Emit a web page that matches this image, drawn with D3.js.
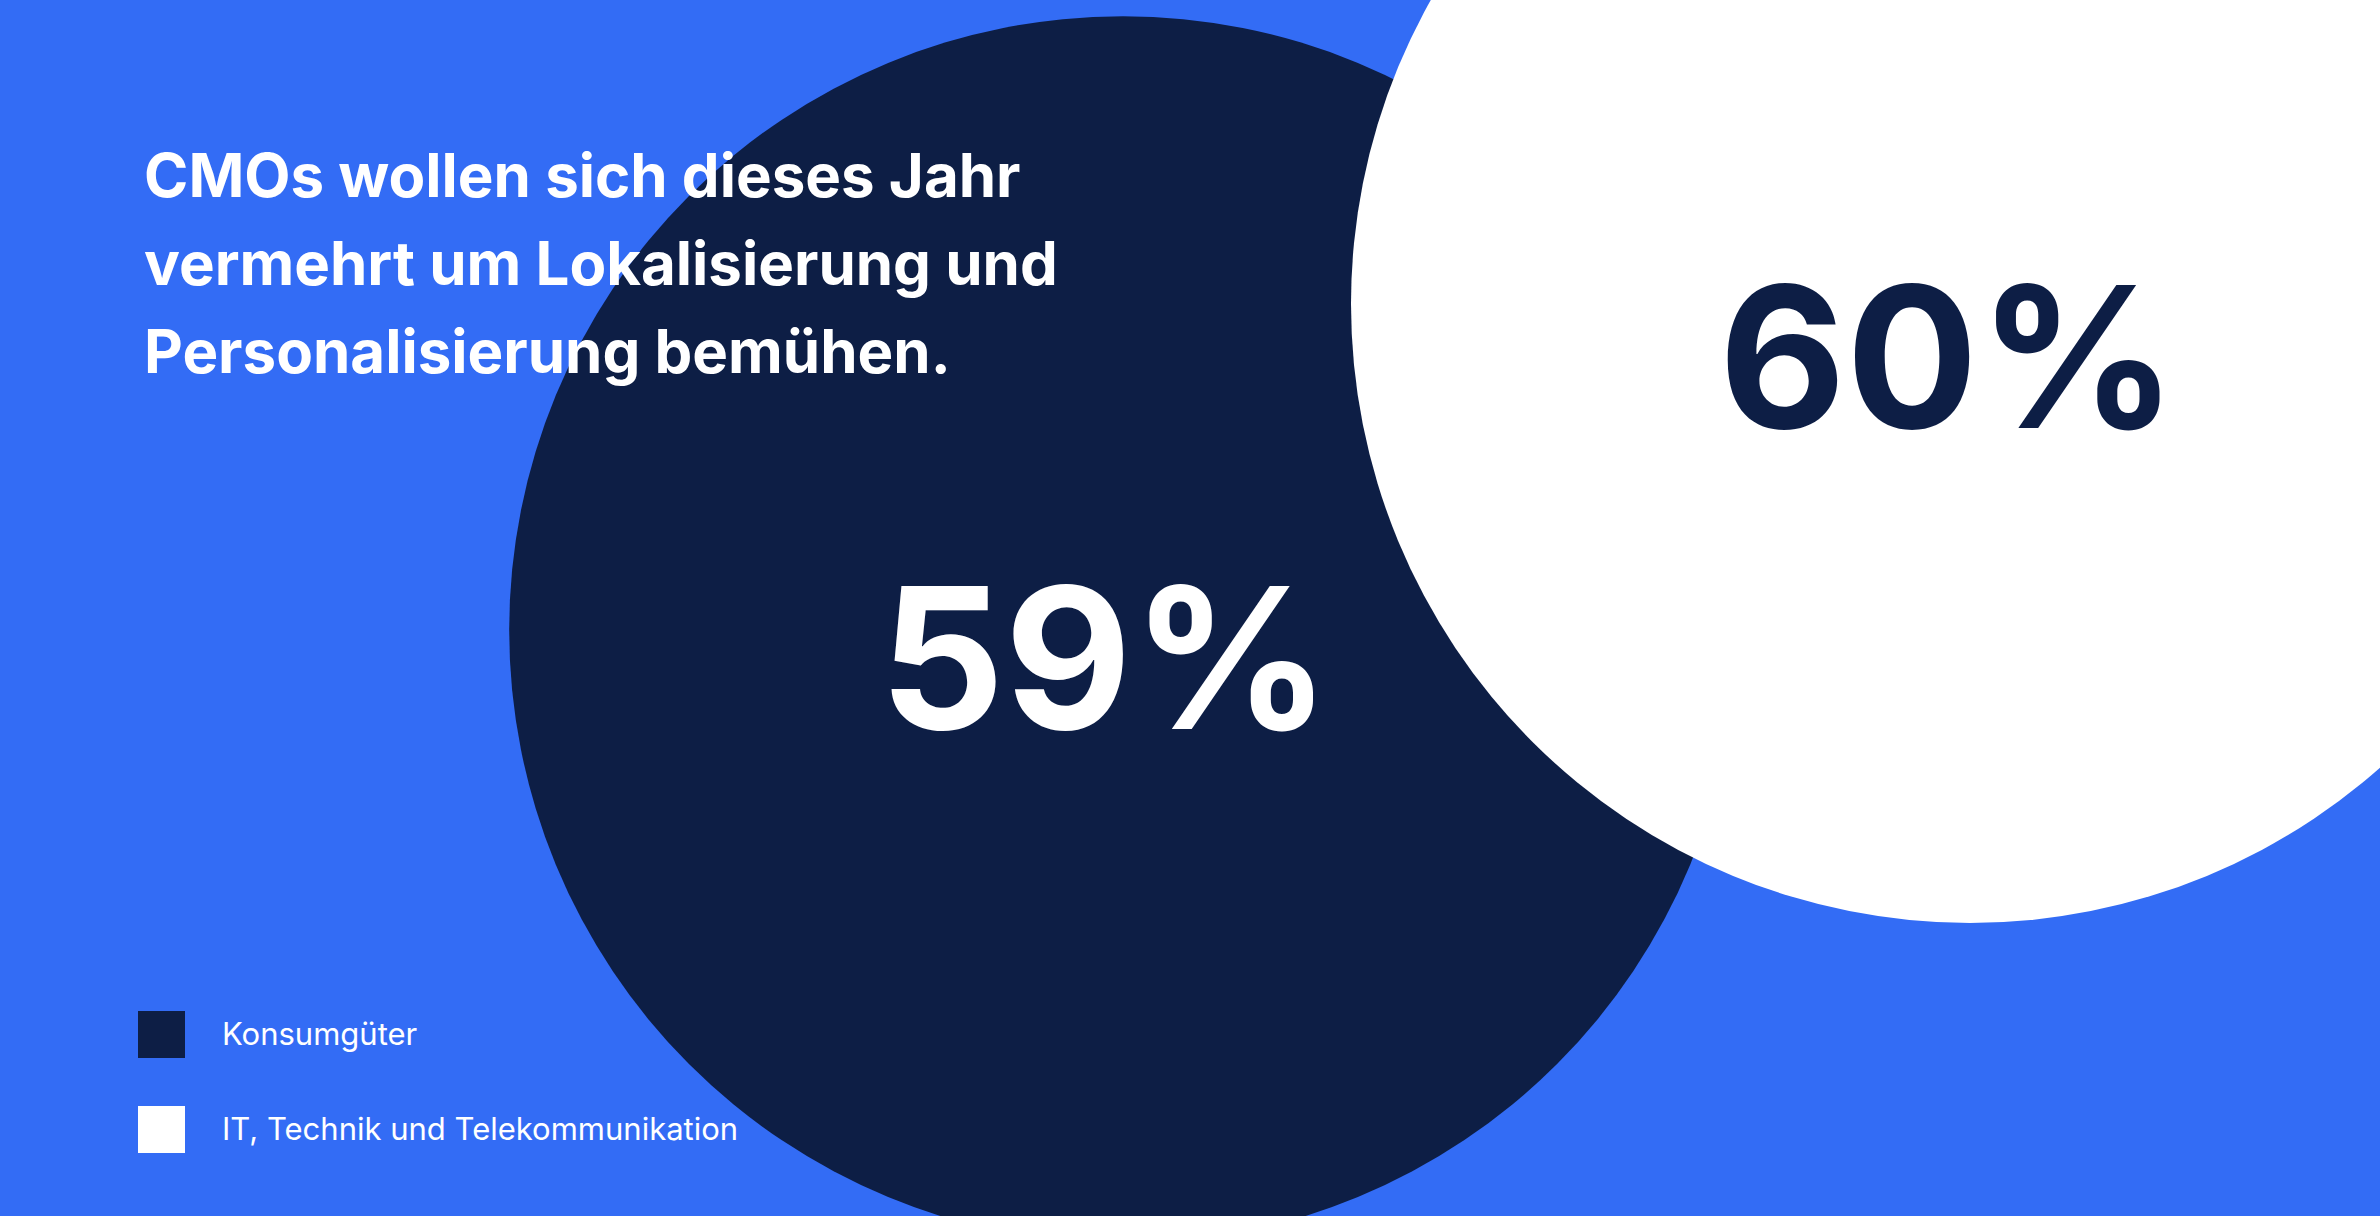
<!DOCTYPE html>
<html>
<head>
<meta charset="utf-8">
<script src="https://cdn.jsdelivr.net/npm/d3@7"></script>
<style>
  body { margin: 0; background: #336cf5; overflow: hidden; }
  svg { display: block; }
</style>
</head>
<body>
<div id="chart"></div>
<script>
const width = 2380;
const height = 1216;

const categories = ["Konsumgüter", "IT, Technik und Telekommunikation"];
const values = [59, 60];
const colors = ["#0d1e45", "#ffffff"];
const labelColors = ["#ffffff", "#0d1e45"];
// circle centres, in page coords
const centers = [[1123, 630], [1970, 304]];
const labelPos = [[1105, 729], [1948, 428]];

const titleLines = [
  "CMOs wollen sich dieses Jahr",
  "vermehrt um Lokalisierung und",
  "Personalisierung bemühen."
];

const svg = d3.select("#chart").append("svg")
  .attr("width", width)
  .attr("height", height)
  .style("background", "#336cf5")
  .style("font-family", "Inter, sans-serif");

const r = d3.scaleSqrt().domain([0, 60]).range([0, 619]);

svg.selectAll("circle.bubble")
  .data(values)
  .join("circle")
  .attr("class", "bubble")
  .attr("cx", (d, i) => centers[i][0])
  .attr("cy", (d, i) => centers[i][1])
  .attr("r", d => r(d))
  .attr("fill", (d, i) => colors[i]);

svg.selectAll("text.val")
  .data(values)
  .join("text")
  .attr("class", "val")
  .attr("x", (d, i) => labelPos[i][0])
  .attr("y", (d, i) => labelPos[i][1])
  .attr("text-anchor", "middle")
  .attr("fill", (d, i) => labelColors[i])
  .attr("font-size", 196)
  .attr("font-weight", 700)
  .text(d => d + "%");

svg.append("text")
  .attr("x", 144)
  .attr("fill", "white")
  .attr("font-size", 60)
  .attr("font-weight", 700)
  .selectAll("tspan")
  .data(titleLines)
  .join("tspan")
  .attr("x", 144)
  .attr("y", (d, i) => 197 + i * 88)
  .text(d => d);

const legend = svg.append("g")
  .selectAll("g")
  .data(categories)
  .join("g")
  .attr("transform", (d, i) => `translate(138, ${1011 + i * 95})`);

legend.append("rect")
  .attr("width", 47)
  .attr("height", 47)
  .attr("fill", (d, i) => colors[i]);

legend.append("text")
  .attr("x", 84)
  .attr("y", 34)
  .attr("fill", "white")
  .attr("font-size", 31)
  .text(d => d);
</script>
</body>
</html>
